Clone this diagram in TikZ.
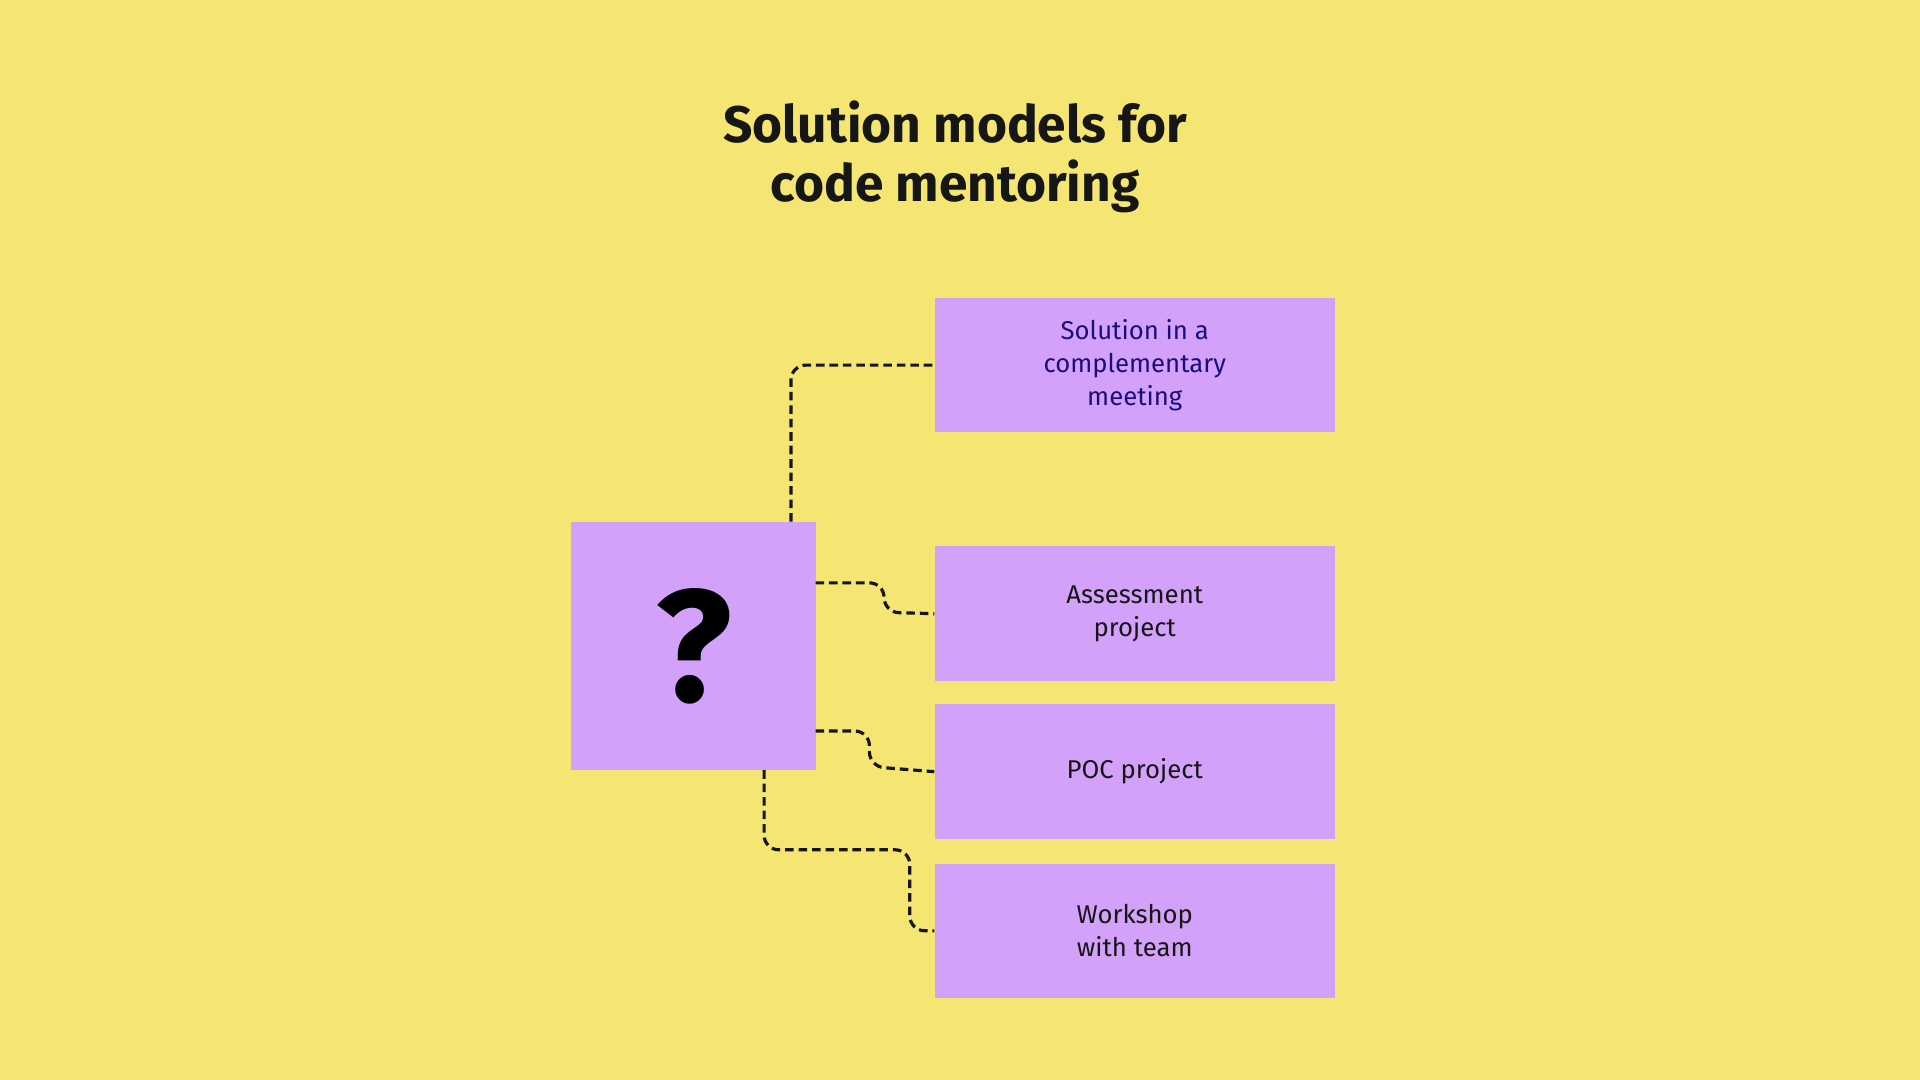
\documentclass[tikz,border=0pt]{standalone}
\usepackage{fontspec}
\setmainfont{Fira Sans}
\definecolor{bg}{HTML}{F5E573}
\definecolor{boxc}{HTML}{D3A1F9}
\definecolor{navy}{HTML}{1C0E7A}
\definecolor{ink}{HTML}{161616}
\begin{document}
\begin{tikzpicture}[x=1pt,y=-1pt,
  card/.style={fill=boxc,draw=none,anchor=north west,minimum width=327pt,minimum height=110pt,align=center,font=\fontsize{21}{27}\selectfont,text=ink,inner sep=0pt},
  link/.style={draw=ink,line width=2.6pt,dashed,dash pattern=on 7pt off 4pt,rounded corners=12pt}]
\fill[bg] (0,0) rectangle (1568,882);
\useasboundingbox (0,0) rectangle (1568,882);
\node[font=\fontsize{42}{48}\selectfont\bfseries,text=ink,align=center] (title) at (780,128) {Solution models for\\code mentoring};
\node[fill=boxc,anchor=north west,minimum width=200pt,minimum height=203pt,inner sep=0pt,font=\fontsize{130}{130}\selectfont\bfseries] (q) at (466,426) {?};
\node[card,text=navy] (b1) at (763,243) {Solution in a\\complementary\\meeting};
\node[card] (b2) at (763,446) {Assessment\\project};
\node[card] (b3) at (763,575) {POC project};
\node[card] (b4) at (763,705) {Workshop\\ with team};
\coordinate (s1) at (646,426);
\coordinate (s2) at (666,476);
\coordinate (s3) at (666,597);
\coordinate (s4) at (624,629);
\draw[link] (s1) |- (b1.west);
\draw[link] (s2) -- (722,476) -- (722,500) -- (b2.west);
\draw[link] (s3) -- (710,597) -- (710,626) -- (b3.west);
\draw[link] (s4) -- (624,694) -- (743,694) -- (743,760) -- (b4.west);
\end{tikzpicture}
\end{document}
